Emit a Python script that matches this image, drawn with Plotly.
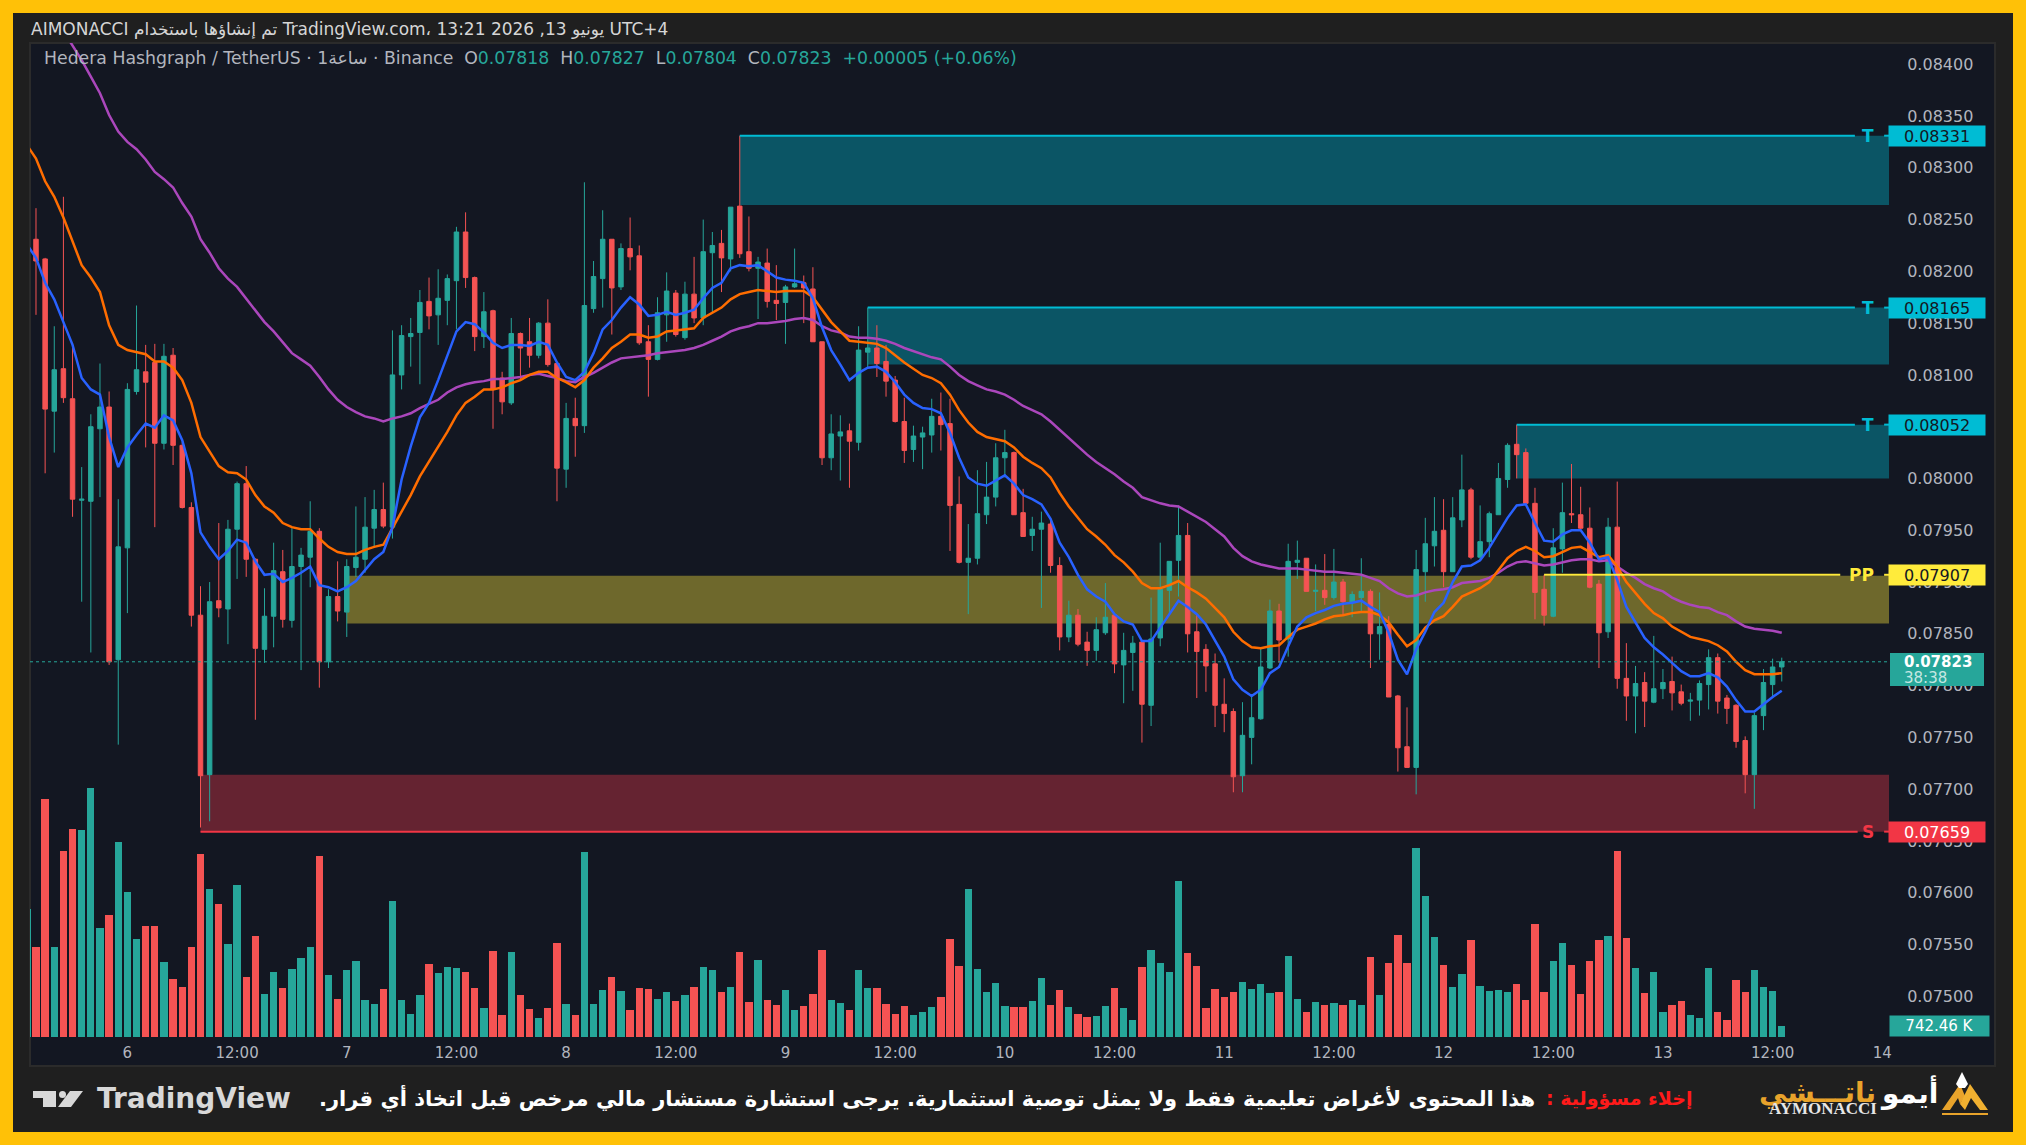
import pandas as pd
import plotly.graph_objects as go

# hourly HBAR/USDT, prices in 1e-5 USDT, first candle 13:00 on June 5
times = pd.date_range('2026-06-05 13:00', periods=193, freq='h')

opens = [8144, 8231, 8212, 8065, 8106, 8077, 7979, 7978, 8048, 8069,
         7825, 7933, 8084, 8103, 8112, 8034, 8119, 8032, 7972, 7868,
         7714, 7882, 7874, 7951, 7995, 7922, 7835, 7867, 7910, 7863,
         7915, 7924, 7949, 7823, 7886, 7871, 7914, 7922, 7952, 7970,
         7953, 8100, 8137, 8141, 8171, 8158, 8172, 8191, 8238, 8194,
         8137, 8162, 8097, 8073, 8140, 8132, 8119, 8150, 8111, 8009,
         8058, 8051, 8164, 8193, 8231, 8185, 8222, 8215, 8132, 8115,
         8158, 8179, 8136, 8178, 8155, 8218, 8227, 8212, 8263, 8219,
         8203, 8208, 8172, 8170, 8185, 8189, 8183, 8132, 8020, 8041,
         8046, 8035, 8122, 8126, 8113, 8095, 8055, 8028, 8040, 8042,
         8060, 8053, 7975, 7919, 7923, 7965, 7982, 8020, 8025, 7967,
         7945, 7951, 7956, 7916, 7847, 7868, 7842, 7834, 7851, 7868,
         7820, 7832, 7842, 7781, 7846, 7892, 7921, 7945, 7852, 7835,
         7821, 7782, 7775, 7713, 7750, 7768, 7817, 7872, 7845, 7919,
         7923, 7891, 7892, 7885, 7900, 7880, 7885, 7891, 7850, 7859,
         7790, 7741, 7721, 7910, 7935, 7950, 7910, 7960, 7989, 7924,
         7939, 7965, 7999, 8033, 8025, 7976, 7893, 7867, 7932, 7966,
         7965, 7952, 7898, 7852, 7953, 7807, 7790, 7803, 7784, 7797,
         7804, 7794, 7785, 7786, 7801, 7827, 7788, 7781, 7747, 7714,
         7771, 7801, 7818]
highs = [8231, 8261, 8213, 8147, 8272, 8131, 8011, 8062, 8111, 8084,
         7980, 8092, 8167, 8129, 8130, 8130, 8126, 8035, 7977, 7896,
         7900, 7957, 7960, 7997, 8012, 7923, 7894, 7938, 7931, 7952,
         7933, 7978, 7952, 7893, 7920, 7922, 7973, 7982, 7989, 7996,
         8143, 8148, 8155, 8182, 8194, 8202, 8197, 8243, 8257, 8195,
         8180, 8163, 8103, 8155, 8141, 8155, 8151, 8173, 8112, 8073,
         8078, 8286, 8210, 8259, 8231, 8227, 8252, 8225, 8148, 8175,
         8199, 8182, 8190, 8214, 8250, 8238, 8240, 8262, 8331, 8253,
         8214, 8222, 8206, 8187, 8222, 8196, 8204, 8132, 8062, 8061,
         8053, 8147, 8165, 8148, 8129, 8099, 8078, 8051, 8050, 8077,
         8083, 8077, 8002, 7956, 8008, 8016, 8034, 8047, 8026, 7990,
         7963, 7968, 7962, 7924, 7882, 7874, 7852, 7866, 7899, 7868,
         7851, 7848, 7844, 7885, 7938, 7920, 7974, 7957, 7869, 7840,
         7831, 7807, 7778, 7784, 7790, 7837, 7883, 7879, 7937, 7940,
         7923, 7917, 7927, 7932, 7903, 7891, 7923, 7893, 7890, 7867,
         7791, 7779, 7931, 7962, 7982, 7980, 7982, 8023, 7991, 7974,
         7968, 8015, 8034, 8052, 8029, 7991, 7907, 7952, 7996, 8014,
         7992, 7972, 7902, 7962, 7997, 7841, 7819, 7813, 7848, 7816,
         7828, 7801, 7793, 7805, 7835, 7831, 7791, 7782, 7751, 7774,
         7816, 7826, 7827]
lows = [8139, 8158, 8005, 8025, 8073, 7963, 7881, 7832, 7982, 7820,
        7743, 7870, 8081, 8030, 7953, 8028, 8013, 7971, 7857, 7663,
        7669, 7866, 7840, 7903, 7905, 7767, 7822, 7837, 7856, 7856,
        7815, 7895, 7798, 7817, 7862, 7847, 7905, 7909, 7934, 7952,
        7942, 8086, 8108, 8091, 8144, 8129, 8148, 8144, 8184, 8123,
        8126, 8048, 8062, 8071, 8095, 8107, 8116, 8108, 7978, 7991,
        8021, 8044, 8160, 8165, 8139, 8182, 8201, 8129, 8079, 8114,
        8132, 8137, 8134, 8150, 8148, 8160, 8180, 8200, 8213, 8200,
        8154, 8165, 8153, 8130, 8184, 8150, 8132, 8013, 8008, 7998,
        7991, 8027, 8107, 8098, 8079, 8054, 8015, 8016, 8009, 8025,
        8027, 7930, 7918, 7869, 7917, 7956, 7973, 8001, 7965, 7944,
        7930, 7875, 7909, 7834, 7842, 7838, 7819, 7824, 7849, 7812,
        7783, 7795, 7745, 7761, 7838, 7868, 7886, 7832, 7788, 7794,
        7760, 7755, 7697, 7697, 7724, 7767, 7816, 7822, 7828, 7903,
        7891, 7872, 7878, 7883, 7868, 7866, 7870, 7817, 7825, 7789,
        7717, 7721, 7695, 7881, 7915, 7895, 7910, 7953, 7922, 7921,
        7924, 7965, 7991, 8000, 7976, 7864, 7858, 7866, 7909, 7957,
        7950, 7894, 7817, 7846, 7797, 7766, 7754, 7760, 7783, 7787,
        7776, 7781, 7766, 7771, 7777, 7773, 7763, 7740, 7696, 7681,
        7757, 7788, 7804]
closes = [8221, 8210, 8067, 8105, 8078, 7980, 7980, 8050, 8069, 7823,
          7934, 8086, 8105, 8093, 8034, 8118, 8032, 7972, 7868, 7713,
          7881, 7875, 7951, 7995, 7922, 7836, 7867, 7911, 7864, 7915,
          7926, 7949, 7823, 7886, 7872, 7915, 7924, 7953, 7970, 7954,
          8100, 8138, 8140, 8170, 8157, 8174, 8193, 8238, 8194, 8137,
          8161, 8086, 8074, 8140, 8126, 8119, 8150, 8110, 8010, 8058,
          8051, 8167, 8195, 8231, 8184, 8222, 8214, 8131, 8115, 8160,
          8181, 8139, 8178, 8155, 8219, 8225, 8213, 8262, 8217, 8203,
          8209, 8171, 8169, 8185, 8188, 8184, 8132, 8020, 8043, 8045,
          8036, 8124, 8126, 8111, 8094, 8055, 8027, 8041, 8044, 8060,
          8052, 7974, 7919, 7923, 7966, 7982, 8020, 8025, 7965, 7944,
          7951, 7957, 7916, 7847, 7868, 7840, 7834, 7854, 7866, 7821,
          7834, 7841, 7782, 7845, 7893, 7920, 7945, 7850, 7833, 7819,
          7781, 7773, 7712, 7752, 7769, 7818, 7872, 7844, 7920, 7921,
          7891, 7892, 7885, 7900, 7881, 7888, 7891, 7850, 7857, 7789,
          7740, 7721, 7912, 7937, 7949, 7910, 7962, 7989, 7924, 7939,
          7966, 8000, 8032, 8023, 7976, 7890, 7868, 7933, 7967, 7965,
          7952, 7895, 7851, 7953, 7807, 7790, 7802, 7785, 7797, 7803,
          7793, 7783, 7786, 7802, 7827, 7785, 7778, 7746, 7714, 7771,
          7803, 7818, 7823]

# volume in thousands
volumes = [8660, 6052, 16090, 6052, 12555, 14018, 13950, 16785, 7358, 8235,
           13140, 9765, 6615, 7515, 7515, 5085, 3893, 3398, 6052, 12330,
           9990, 8955, 6255, 10283, 4073, 6840, 2880, 4410, 3330, 4568,
           5310, 6052, 12195, 4208, 2588, 4500, 5153, 2520, 2228, 3240,
           9203, 2520, 1575, 2813, 4928, 4343, 4703, 4635, 4410, 3330,
           1935, 5828, 1485, 5738, 2813, 1868, 1283, 1935, 6323, 2228,
           1485, 12488, 2228, 3173, 4050, 3105, 1800, 3330, 3263, 2588,
           3038, 2453, 2813, 3398, 4703, 4500, 3038, 3398, 5738, 2385,
           5220, 2520, 2160, 3173, 1800, 2093, 2880, 5895, 2520, 2295,
           1800, 4500, 3330, 3330, 2228, 1575, 2093, 1485, 1710, 2003,
           2678, 6615, 4793, 9990, 4568, 3038, 3623, 2070, 2003, 2003,
           2453, 3983, 2138, 3173, 2003, 1575, 1350, 1418, 2070, 3330,
           1935, 1125, 4703, 5895, 4995, 4410, 10508, 5670, 4793, 1935,
           3263, 2678, 3038, 3690, 3240, 3555, 2970, 3038, 5445, 2588,
           1710, 2385, 2160, 2295, 2160, 2520, 2160, 5378, 2813, 5018,
           6908, 5018, 12780, 9495, 6773, 4860, 3398, 4275, 6548, 3465,
           3105, 3173, 3038, 3555, 2520, 7650, 3038, 5153, 6323, 4860,
           2880, 5153, 6548, 6840, 12555, 6705, 4635, 2948, 4410, 1710,
           2160, 2453, 1485, 1260, 4635, 1710, 1125, 3825, 3038, 4500,
           3398, 3105, 742]

ema_fast = [8226, 8213, 8189, 8173, 8151, 8129, 8097, 8086, 8081, 8040,
            8011, 8030, 8042, 8053, 8049, 8061, 8056, 8037, 8005, 7948,
            7934, 7922, 7930, 7941, 7938, 7920, 7907, 7908, 7900, 7904,
            7909, 7915, 7897, 7895, 7891, 7895, 7901, 7912, 7922, 7929,
            7953, 7999, 8031, 8059, 8073, 8095, 8119, 8142, 8151, 8149,
            8141, 8131, 8126, 8129, 8129, 8128, 8132, 8129, 8112, 8098,
            8095, 8103, 8121, 8144, 8153, 8165, 8175, 8168, 8157, 8158,
            8161, 8158, 8160, 8163, 8174, 8184, 8189, 8203, 8206, 8205,
            8206, 8200, 8194, 8192, 8191, 8189, 8174, 8146, 8124, 8110,
            8095, 8102, 8107, 8108, 8103, 8093, 8081, 8073, 8068, 8067,
            8063, 8044, 8020, 8001, 7995, 7993, 7998, 8003, 7995, 7984,
            7980, 7975, 7961, 7938, 7924, 7907, 7893, 7886, 7881, 7869,
            7862, 7859, 7843, 7843, 7856, 7869, 7882, 7876, 7869, 7859,
            7844, 7828, 7806, 7796, 7790, 7796, 7812, 7818, 7838, 7857,
            7866, 7870, 7873, 7877, 7879, 7880, 7882, 7876, 7871, 7851,
            7825, 7811, 7835, 7852, 7871, 7880, 7900, 7915, 7916, 7921,
            7933, 7948, 7962, 7974, 7975, 7957, 7940, 7939, 7946, 7950,
            7950, 7938, 7922, 7924, 7902, 7876, 7861, 7846, 7837, 7830,
            7822, 7814, 7809, 7809, 7812, 7808, 7799, 7786, 7775, 7775,
            7782, 7789, 7795]
ema_mid = [8322, 8309, 8287, 8272, 8252, 8229, 8206, 8194, 8180, 8148,
           8129, 8124, 8122, 8120, 8113, 8113, 8107, 8095, 8073, 8040,
           8026, 8012, 8006, 8005, 7999, 7984, 7973, 7967, 7957, 7953,
           7951, 7951, 7942, 7934, 7929, 7927, 7927, 7931, 7934, 7936,
           7952, 7968, 7984, 8002, 8016, 8030, 8045, 8061, 8073, 8079,
           8086, 8086, 8088, 8092, 8095, 8100, 8103, 8103, 8097, 8093,
           8088, 8095, 8107, 8116, 8126, 8132, 8139, 8139, 8136, 8137,
           8142, 8143, 8144, 8145, 8155, 8160, 8165, 8173, 8178, 8180,
           8182, 8181, 8180, 8181, 8181, 8181, 8175, 8163, 8151, 8142,
           8133, 8132, 8131, 8130, 8126, 8119, 8112, 8106, 8100, 8097,
           8092, 8081, 8066, 8054, 8045, 8040, 8038, 8036, 8030, 8021,
           8015, 8010, 8001, 7986, 7973, 7962, 7951, 7944, 7936, 7926,
           7919, 7910, 7899, 7894, 7894, 7897, 7901, 7895, 7890, 7884,
           7875, 7866, 7852, 7843, 7837, 7836, 7838, 7839, 7847, 7854,
           7857, 7860, 7864, 7867, 7868, 7870, 7871, 7871, 7868, 7861,
           7849, 7838, 7844, 7856, 7863, 7867, 7876, 7886, 7890, 7894,
           7900, 7912, 7923, 7930, 7934, 7930, 7924, 7925, 7929, 7933,
           7934, 7929, 7924, 7926, 7915, 7900, 7889, 7879, 7870, 7865,
           7857, 7852, 7847, 7845, 7843, 7839, 7833, 7823, 7815, 7811,
           7811, 7811, 7812]
ema_slow = [None, None, None, None, 8432, 8418, 8404, 8388, 8372, 8351,
            8335, 8325, 8318, 8308, 8296, 8289, 8281, 8266, 8253, 8231,
            8218, 8203, 8193, 8185, 8174, 8163, 8151, 8142, 8131, 8121,
            8115, 8109, 8098, 8086, 8076, 8069, 8064, 8060, 8058, 8055,
            8058, 8060, 8063, 8068, 8072, 8076, 8083, 8088, 8091, 8093,
            8094, 8096, 8096, 8097, 8098, 8100, 8101, 8099, 8097, 8094,
            8093, 8098, 8102, 8107, 8112, 8116, 8117, 8118, 8119, 8121,
            8122, 8123, 8124, 8126, 8129, 8133, 8137, 8142, 8145, 8147,
            8150, 8150, 8151, 8152, 8154, 8155, 8153, 8147, 8143, 8141,
            8137, 8136, 8136, 8135, 8133, 8130, 8126, 8123, 8120, 8117,
            8115, 8108, 8100, 8094, 8090, 8086, 8084, 8081, 8076, 8070,
            8066, 8062, 8055, 8047, 8039, 8031, 8023, 8016, 8010, 8004,
            7997, 7991, 7982, 7979, 7976, 7974, 7973, 7968, 7963, 7958,
            7951, 7944, 7933, 7925, 7920, 7917, 7915, 7913, 7913, 7913,
            7912, 7911, 7910, 7910, 7909, 7908, 7907, 7904, 7901, 7894,
            7889, 7886, 7887, 7890, 7892, 7893, 7895, 7899, 7900, 7901,
            7904, 7909, 7915, 7919, 7920, 7918, 7916, 7917, 7919, 7921,
            7922, 7922, 7920, 7921, 7915, 7909, 7904, 7898, 7894, 7891,
            7885, 7881, 7878, 7876, 7875, 7871, 7868, 7862, 7857, 7855,
            7854, 7853, 7851]

price_ticks = [0.084, 0.0835, 0.083, 0.0825, 0.082, 0.0815, 0.081, 0.0805, 0.08, 0.0795,
               0.079, 0.0785, 0.078, 0.0775, 0.077, 0.0765, 0.076, 0.0755, 0.075]
time_ticks = ['2026-06-06 00:00', '2026-06-06 12:00', '2026-06-07 00:00', '2026-06-07 12:00',
              '2026-06-08 00:00', '2026-06-08 12:00', '2026-06-09 00:00', '2026-06-09 12:00',
              '2026-06-10 00:00', '2026-06-10 12:00', '2026-06-11 00:00', '2026-06-11 12:00',
              '2026-06-12 00:00', '2026-06-12 12:00', '2026-06-13 00:00', '2026-06-13 12:00',
              '2026-06-14 00:00']
time_labels = ['6', '12:00', '7', '12:00', '8', '12:00', '9', '12:00', '10', '12:00',
               '11', '12:00', '12', '12:00', '13', '12:00', '14']

# zones drawn behind the candles
zone_starts = ['2026-06-08 19:00', '2026-06-09 09:00', '2026-06-12 08:00', '2026-06-07 00:00', '2026-06-06 08:00']
zone_tops = [0.08331, 0.08165, 0.08052, 0.07906, 0.07714]
zone_bottoms = [0.08264, 0.08110, 0.08000, 0.07860, 0.07659]
zone_fills = ['#0b5565', '#0b5565', '#0b5565', '#6e682c', '#652331']

level_prices = [0.08331, 0.08165, 0.08052, 0.07907, 0.07659]
level_names = ['T', 'T', 'T', 'PP', 'S']
level_starts = ['2026-06-08 19:00', '2026-06-09 09:00', '2026-06-12 08:00', '2026-06-12 11:00', '2026-06-06 08:00']
level_stops = ['2026-06-13 21:00', '2026-06-13 21:00', '2026-06-13 21:00', '2026-06-13 19:24', '2026-06-13 21:18']

BG = '#131722'
FRAME = '#1f1f1f'
YELLOW = '#ffc107'
UP = '#26a69a'
DOWN = '#f55353'
GREY = '#b2b5be'
FONT = 'DejaVu Sans'
W, H = 2026, 1145
L, R, T, B = 30, 1889, 43, 1037
level_colors = ['#00bcd4', '#00bcd4', '#00bcd4', '#ffeb3b', '#f23645']
level_text = [BG, BG, BG, BG, '#ffffff']


def px(x):
    return (x - L) / (R - L)


def py(y):
    return (B - y) / (B - T)


def poly(points, color):
    path = 'M ' + ' L '.join(f'{px(x):.5f},{py(y):.5f}' for x, y in points) + ' Z'
    return dict(type='path', xref='paper', yref='paper', path=path, fillcolor=color, line_width=0, layer='above')


def note(x, y, text, size, color, anchor='center', yref='paper', family=FONT, **kw):
    return dict(xref='paper', yref=yref, x=px(x), y=py(y) if yref == 'paper' else y, xanchor=anchor, yanchor='middle',
                text=text, showarrow=False, font=dict(family=family, size=size, color=color), **kw)


colors = [UP if c >= o else DOWN for o, c in zip(opens, closes)]

fig = go.Figure()

fig.add_trace(go.Bar(x=times, y=volumes, yaxis='y2', width=3600000 * 0.8, marker=dict(color=colors, line_width=0),
                     showlegend=False, hoverinfo='skip'))
fig.add_trace(go.Candlestick(x=times, open=[v / 1e5 for v in opens], high=[v / 1e5 for v in highs],
                             low=[v / 1e5 for v in lows], close=[v / 1e5 for v in closes],
                             increasing=dict(line=dict(color=UP, width=1), fillcolor=UP),
                             decreasing=dict(line=dict(color=DOWN, width=1), fillcolor=DOWN),
                             whiskerwidth=0, showlegend=False))
for values, color in [(ema_slow, '#ab47bc'), (ema_mid, '#ff6d00'), (ema_fast, '#2962ff')]:
    fig.add_trace(go.Scatter(x=times, y=[v / 1e5 if v else None for v in values], mode='lines',
                             line=dict(color=color, width=2.5), showlegend=False))

x_start = '2026-06-05 13:20:40'
x_end = '2026-06-14 00:44:00'

shapes = [
    dict(type='rect', xref='paper', yref='paper', x0=px(13), x1=px(2013), y0=py(13), y1=py(1132),
         fillcolor=FRAME, line_width=0, layer='below'),
    dict(type='rect', xref='paper', yref='paper', x0=px(30), x1=px(1995), y0=py(43), y1=py(1066),
         fillcolor=BG, line=dict(color='#2b2b2b', width=2), layer='below'),
]
for start, top, bottom, fill in zip(zone_starts, zone_tops, zone_bottoms, zone_fills):
    shapes.append(dict(type='rect', x0=start, x1=x_end, y0=bottom, y1=top, fillcolor=fill, line_width=0, layer='below'))

annotations = []
for price, name, start, stop, color, text_color in zip(level_prices, level_names, level_starts, level_stops, level_colors, level_text):
    # the line stops before its letter and comes back just before the axis
    shapes.append(dict(type='line', x0=start, x1=stop, y0=price, y1=price, line=dict(color=color, width=2)))
    shapes.append(dict(type='line', x0='2026-06-14 00:12', x1=x_end, y0=price, y1=price, line=dict(color=color, width=2)))
    annotations.append(note(1861 if name == 'PP' else 1868, price, f'<b>{name}</b>', 17, color, yref='y'))
    annotations.append(note(1937, price, f'{price:.5f}', 16, text_color, yref='y', width=94, height=18, bgcolor=color))

# last price and volume tags
shapes.append(dict(type='line', x0=x_start, x1=x_end, y0=0.07823, y1=0.07823, line=dict(color=UP, width=1, dash='dot')))
shapes.append(dict(type='rect', xref='paper', yref='paper', x0=px(1890), x1=px(1984), y0=py(653), y1=py(686),
                   fillcolor=UP, line_width=0, layer='above'))
annotations.append(note(1902, 662, '<b>0.07823</b>', 15, '#ffffff', anchor='left'))
annotations.append(note(1902, 678, '38:38', 15, '#c4e6e2', anchor='left'))
annotations.append(note(1939, 1026, '742.46 K', 15, '#ffffff', width=97, height=18, bgcolor=UP))

# header lines
annotations.append(note(29, 29, 'AIMONACCI تم إنشاؤها باستخدام TradingView.com، 13:21 2026 ,13 يونيو UTC+4', 17, '#d6d6d6', anchor='left'))
legend_text = ('Hedera Hashgraph / TetherUS · 1ساعة · Binance  '
               f'O<span style="color:{UP}">0.07818</span>  H<span style="color:{UP}">0.07827</span>  '
               f'L<span style="color:{UP}">0.07804</span>  C<span style="color:{UP}">0.07823</span>  '
               f'<span style="color:{UP}">+0.00005 (+0.06%)</span>')
annotations.append(note(42, 58, legend_text, 17.3, GREY, anchor='left'))

# footer
annotations.append(note(95, 1098, '<b>TradingView</b>', 28, '#d8d8d8', anchor='left'))
annotations.append(note(1537, 1098, '<b>هذا المحتوى لأغراض تعليمية فقط ولا يمثل توصية استثمارية. يرجى استشارة مستشار مالي مرخص قبل اتخاذ أي قرار.\u200f</b>',
                        21, '#ffffff', anchor='right'))
annotations.append(note(1694, 1098, '<b>إخلاء مسؤولية :\u200f</b>', 19, '#ff1a1a', anchor='right'))
annotations.append(note(1940, 1092, '<b>أيمو</b>', 28, '#ffffff', anchor='right'))
annotations.append(note(1878, 1092, '<b>ناتـــشي</b>', 28, '#e8a32b', anchor='right'))
annotations.append(note(1767, 1108, '<b>AYMONACCI</b>', 17, '#e6e6e6', anchor='left', family='Liberation Serif'))

# TradingView mark and the small M logo
shapes += [
    poly([(33, 1091), (56, 1091), (56, 1107), (43, 1107), (43, 1098), (33, 1098)], '#d8d8d8'),
    poly([(70, 1091), (83, 1091), (71, 1107), (58, 1107)], '#d8d8d8'),
    dict(type='circle', xref='paper', yref='paper', x0=px(59), x1=px(66), y0=py(1091), y1=py(1098),
         fillcolor='#d8d8d8', line_width=0, layer='above'),
    poly([(1942, 1110), (1960, 1084), (1965, 1096), (1960, 1104), (1958, 1098), (1950, 1110)], '#e8a32b'),
    poly([(1988, 1110), (1970, 1084), (1960, 1104), (1965, 1110), (1971, 1098), (1980, 1110)], '#f0b030'),
    poly([(1962, 1072), (1968, 1084), (1965, 1088), (1959, 1088), (1956, 1084)], '#ffffff'),
    poly([(1942, 1113), (1988, 1113), (1988, 1115), (1942, 1115)], '#e8a32b'),
]

fig.update_layout(
    width=W, height=H,
    margin=dict(l=L, r=W - R, t=T, b=H - B),
    paper_bgcolor=YELLOW,
    plot_bgcolor=BG,
    shapes=shapes,
    annotations=annotations,
    showlegend=False,
    xaxis=dict(type='date', range=[x_start, x_end], rangeslider_visible=False, showgrid=False, zeroline=False,
               tickmode='array', tickvals=time_ticks, ticktext=time_labels, ticks='outside', ticklen=2, tickcolor=BG,
               showline=False, tickfont=dict(family=FONT, size=15, color=GREY)),
    yaxis=dict(side='right', range=[0.074607, 0.084205], showgrid=False, zeroline=False, tickmode='array',
               tickvals=price_ticks, tickformat='.5f', ticks='outside', ticklen=14, tickcolor=BG, showline=False,
               tickfont=dict(family=FONT, size=16, color=GREY)),
    yaxis2=dict(overlaying='y', range=[0, 67095], visible=False),
    bargap=0,
)

fig.write_html("out.html", config=dict(displayModeBar=False), post_script="document.body.style.margin='0';")
